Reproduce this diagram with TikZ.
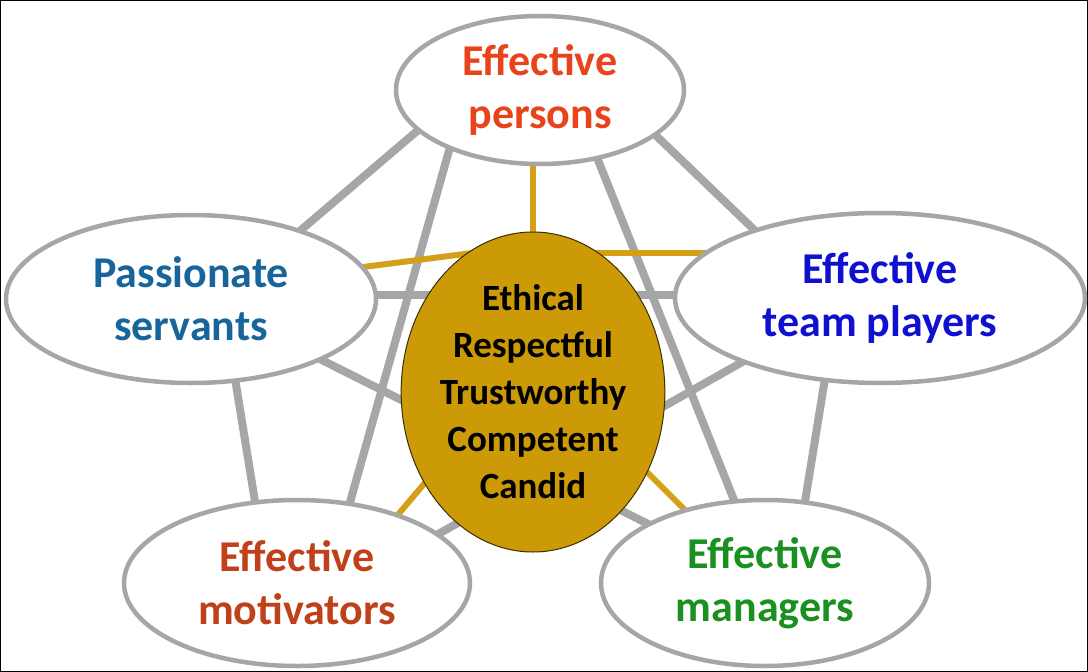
\documentclass[tikz,border=0pt]{standalone}
\usepackage{fontspec}
\setmainfont{Carlito}
\usetikzlibrary{backgrounds,shapes.geometric}
\definecolor{lg}{HTML}{A6A6A6}
\definecolor{gold}{HTML}{CC9A06}
\definecolor{goldl}{HTML}{D4A017}
\definecolor{cT}{HTML}{E8431A}
\definecolor{cL}{HTML}{17659A}
\definecolor{cR}{HTML}{1010D0}
\definecolor{cBL}{HTML}{C0401A}
\definecolor{cBR}{HTML}{1A9020}
\tikzset{
 outer/.style={ellipse, draw=lg, line width=4.5pt, fill=white, inner sep=0pt, align=center, font=\bfseries\fontsize{44}{53}\selectfont},
 gline/.style={draw=lg, line width=8pt},
 oline/.style={draw=goldl, line width=6pt},
}
\begin{document}
\begin{tikzpicture}[x=1pt,y=-1pt]
\useasboundingbox (0,0) rectangle (1088,672);
\draw[black, line width=1pt] (0.5,0.5) rectangle (1087.5,671.5);
\node[outer, minimum width=288pt, minimum height=148pt, text=cT] (top) at (540,90) {Effective\\persons};
\node[outer, minimum width=370pt, minimum height=168pt, text=cL] (left) at (191,299) {Passionate\\servants};
\node[outer, minimum width=410pt, minimum height=170pt, text=cR] (right) at (880,298) {Effective\\team players};
\node[outer, minimum width=346pt, minimum height=166pt, text=cBL] (bl) at (297,583) {Effective\\motivators};
\node[outer, minimum width=328pt, minimum height=166pt, text=cBR] (br) at (765,583) {Effective\\managers};
\node[ellipse, draw=black!70!gold, line width=1pt, fill=gold, minimum width=256pt, minimum height=320pt, inner sep=0pt, align=center, font=\bfseries\fontsize{37}{47}\selectfont] (c) at (533,392) {Ethical\\Respectful\\Trustworthy\\Competent\\Candid};
\begin{scope}[on background layer]
\coordinate (a1) at (260,265); \coordinate (a2) at (430,120);
\coordinate (b1) at (452,140); \coordinate (b2) at (345,520);
\coordinate (d1) at (594,150); \coordinate (d2) at (738,510);
\coordinate (e1) at (645,125); \coordinate (e2) at (770,245);
\coordinate (f1) at (250,295); \coordinate (f2) at (800,295);
\coordinate (g1) at (270,334); \coordinate (g2) at (680,540);
\coordinate (h1) at (790,335); \coordinate (h2) at (410,550);
\coordinate (i1) at (232,360); \coordinate (i2) at (258,520);
\coordinate (j1) at (828,360); \coordinate (j2) at (802,520);
\foreach \p/\q in {a1/a2,b1/b2,d1/d2,e1/e2,f1/f2,g1/g2,h1/h2,i1/i2,j1/j2}
  \draw[gline] (\p) -- (\q);
\coordinate (m1) at (533,140); \coordinate (m2) at (533,260);
\coordinate (n1) at (340,270); \coordinate (n2) at (480,252);
\coordinate (o1) at (580,253); \coordinate (o2) at (720,253);
\coordinate (p1) at (385,530); \coordinate (p2) at (440,465);
\coordinate (q1) at (630,455); \coordinate (q2) at (700,525);
\foreach \p/\q in {m1/m2,n1/n2,o1/o2,p1/p2,q1/q2}
  \draw[oline] (\p) -- (\q);
\end{scope}
\end{tikzpicture}
\end{document}
